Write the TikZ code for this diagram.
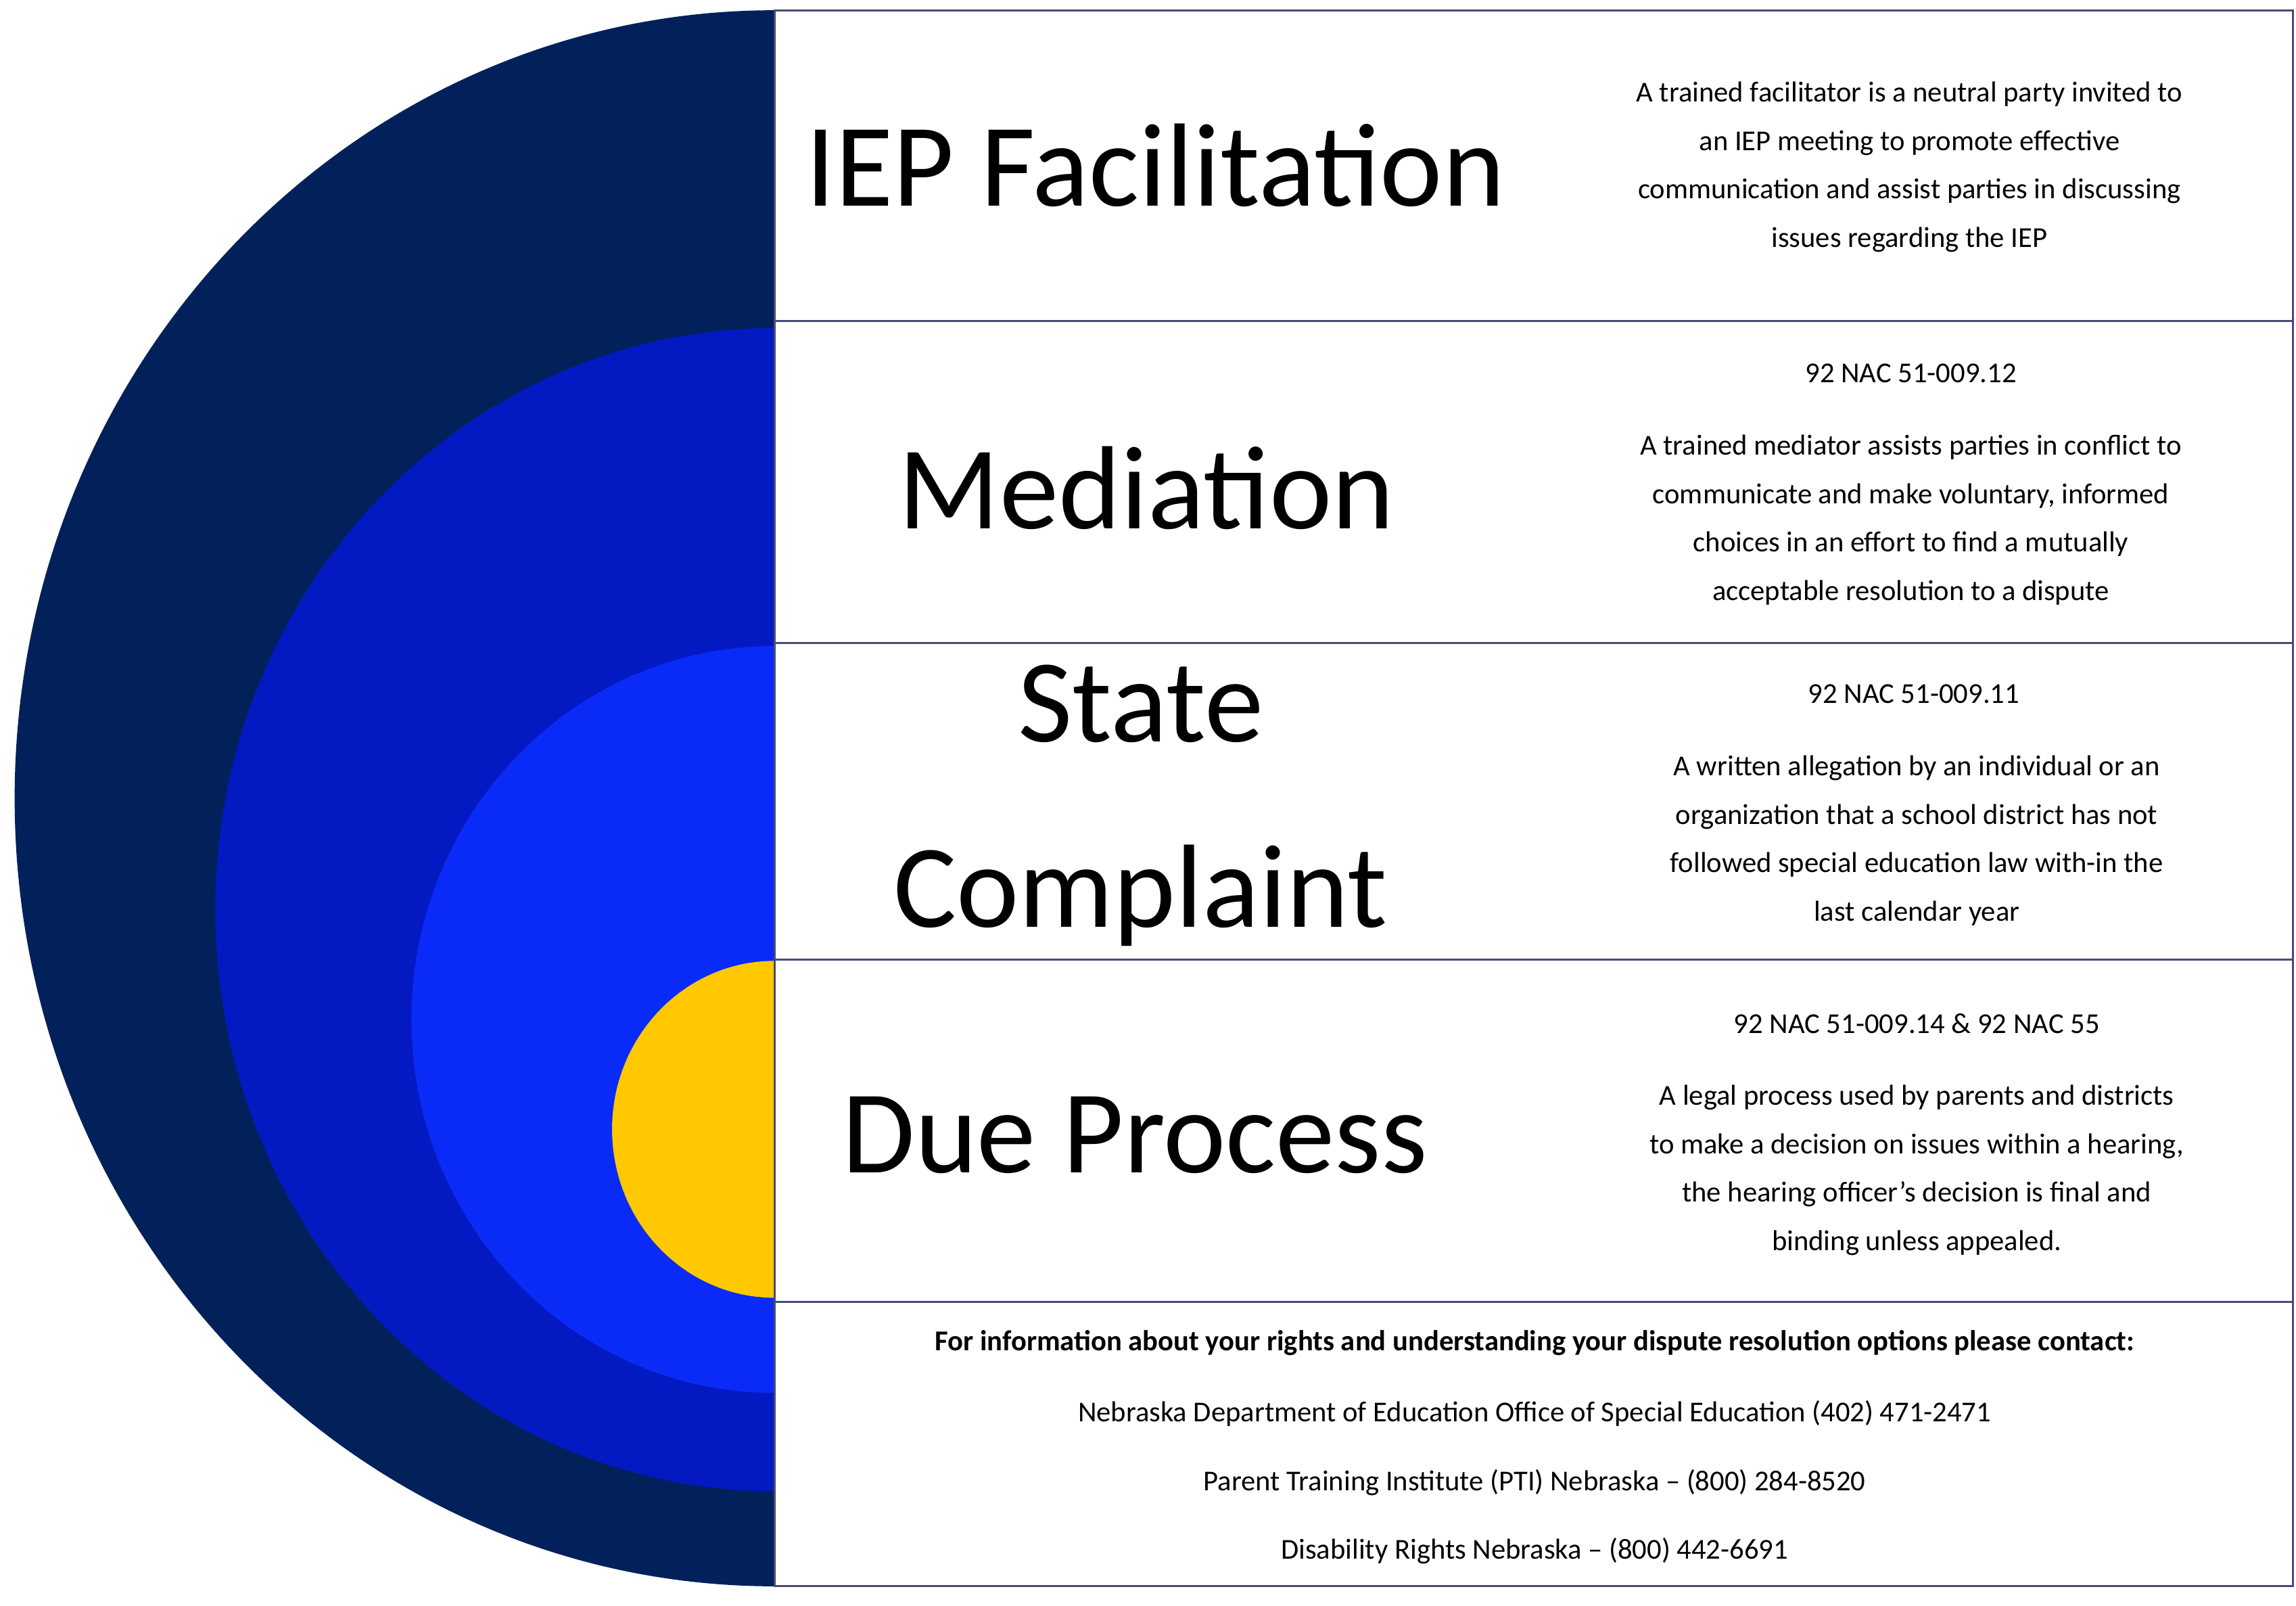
\documentclass[tikz,border=0pt]{standalone}
\usepackage{fontspec}
\setmainfont{Carlito}
\usetikzlibrary{positioning}
\definecolor{navyA}{HTML}{02215A}
\definecolor{blueB}{HTML}{0319C2}
\definecolor{blueC}{HTML}{0A2BF7}
\definecolor{goldD}{HTML}{FFC800}
\definecolor{frame}{HTML}{4A4A7A}
\tikzset{
x=0.1mm, y=-0.1mm,
rowbox/.style={draw=frame, line width=0.4pt, fill=white},
title/.style={font=\fontsize{23}{27}\selectfont, align=center},
desc/.style={font=\fontsize{5.6}{9.4}\selectfont, align=center},
}
\begin{document}
\begin{tikzpicture}
\useasboundingbox[fill=white] (0,0) rectangle (1568,1096);
% nested half discs
\fill[navyA] (529,7) arc[start angle=90, end angle=270, x radius=519, y radius=-538] -- cycle;
\fill[blueB] (529,224) arc[start angle=90, end angle=270, x radius=382, y radius=-397] -- cycle;
\fill[blueC] (529,441) arc[start angle=90, end angle=270, x radius=248, y radius=-255] -- cycle;
\fill[goldD] (529,656) arc[start angle=90, end angle=270, x radius=111, y radius=-115] -- cycle;
% rows
\draw[rowbox] (529,7) rectangle (1566,219);
\draw[rowbox] (529,219) rectangle (1566,439);
\draw[rowbox] (529,439) rectangle (1566,655);
\draw[rowbox] (529,655) rectangle (1566,889);
\draw[rowbox] (529,889) rectangle (1566,1083);
% titles
\node[title] (iep) at (789,113) {IEP Facilitation};
\node[title] (med) at (783,333) {Mediation};
\node[title, font=\fontsize{23}{36}\selectfont] (sc) at (779,550) {State\\Complaint};
\node[title] (dp) at (775,775) {Due Process};
% descriptions
\node[desc] (iepd) at (1304,114) {A trained facilitator is a neutral party invited to\\an IEP meeting to promote effective\\communication and assist parties in discussing\\issues regarding the IEP};
\node[desc] (medr) at (1305,255) {92 NAC 51-009.12};
\node[desc] (medd) at (1305,355) {A trained mediator assists parties in conflict to\\communicate and make voluntary, informed\\choices in an effort to find a mutually\\acceptable resolution to a dispute};
\node[desc] (scr) at (1307,474) {92 NAC 51-009.11};
\node[desc] (scd) at (1309,574) {A written allegation by an individual or an\\organization that a school district has not\\followed special education law with-in the\\last calendar year};
\node[desc] (dpr) at (1309,699) {92 NAC 51-009.14 \& 92 NAC 55};
\node[desc] (dpd) at (1309,799) {A legal process used by parents and districts\\to make a decision on issues within a hearing,\\the hearing officer's decision is final and\\binding unless appealed.};
% contacts
\node[desc, font=\fontsize{5.6}{9.4}\selectfont\bfseries] (info) at (1048,917) {For information about your rights and understanding your dispute resolution options please contact:};
\node[desc] (nde) at (1048,965) {Nebraska Department of Education Office of Special Education (402) 471-2471};
\node[desc] (pti) at (1048,1012) {Parent Training Institute (PTI) Nebraska – (800) 284-8520};
\node[desc] (drn) at (1048,1059) {Disability Rights Nebraska – (800) 442-6691};
\end{tikzpicture}
\end{document}
